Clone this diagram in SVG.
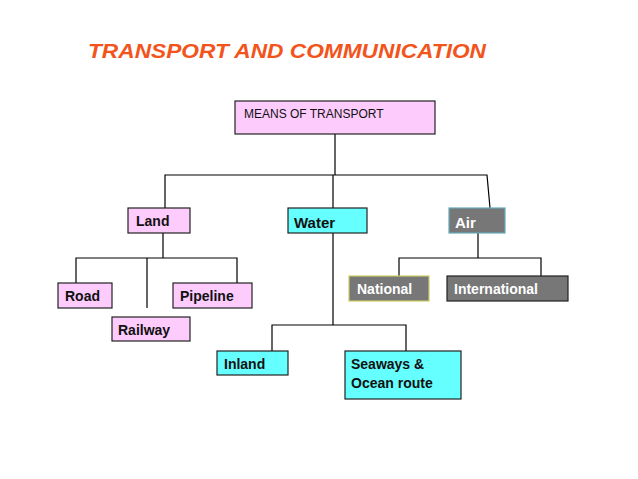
<svg xmlns="http://www.w3.org/2000/svg" width="638" height="479" viewBox="0 0 638 479">
<style>
text{font-family:"Liberation Sans",Arial,sans-serif;font-weight:bold;font-size:14px;fill:#111}
.p{fill:#fdccfd;stroke:#222;stroke-width:1.2}
.c{fill:#66ffff;stroke:#222;stroke-width:1.2}
.g{fill:#777;stroke:#222;stroke-width:1.2}
.w{fill:#fff}
#conn path{fill:none;stroke:#000;stroke-width:1.2}
</style>
<rect width="638" height="479" fill="#fff"/>
<text x="88" y="58" style="font-size:21px;font-style:italic;fill:#f2541b" textLength="398" lengthAdjust="spacingAndGlyphs">TRANSPORT AND COMMUNICATION</text>
<g id="conn">
<path d="M335 134V175M165 208V175H487L490 208M333 175V208"/>
<path d="M163 233V258M76 283V258H237V283M147 258V308"/>
<path d="M333 233V325M272 351V325H406V351"/>
<path d="M478 233V258M399 276V258H541V276"/>
</g>
<g id="means"><rect class="p" x="235" y="101" width="200" height="33"/><text x="244" y="118" style="font-size:12px;font-weight:normal">MEANS OF TRANSPORT</text></g>
<g id="land"><rect class="p" x="128" y="208" width="62" height="25"/><text x="136" y="226">Land</text></g>
<g id="water"><rect class="c" x="288" y="208" width="79" height="25"/><text x="294" y="228" style="font-size:15px">Water</text></g>
<g id="air"><rect class="g" x="449" y="208" width="56" height="25" style="stroke:#6ab"/><text class="w" x="455" y="228" style="font-size:15px">Air</text></g>
<g id="road"><rect class="p" x="58" y="283" width="54" height="25"/><text x="65" y="301">Road</text></g>
<g id="pipeline"><rect class="p" x="173" y="283" width="79" height="25"/><text x="180" y="301">Pipeline</text></g>
<g id="railway"><rect class="p" x="112" y="317" width="78" height="24"/><text x="118" y="335">Railway</text></g>
<g id="inland"><rect class="c" x="217" y="351" width="71" height="24"/><text x="224" y="369">Inland</text></g>
<g id="seaways"><rect class="c" x="345" y="351" width="116" height="48"/><text x="351" y="369">Seaways &amp;</text><text x="351" y="388">Ocean route</text></g>
<g id="national"><rect class="g" x="349" y="276" width="80" height="25" style="stroke:#cc6"/><text class="w" x="357" y="294">National</text></g>
<g id="international"><rect class="g" x="447" y="276" width="121" height="25"/><text class="w" x="454" y="294">International</text></g>
</svg>
